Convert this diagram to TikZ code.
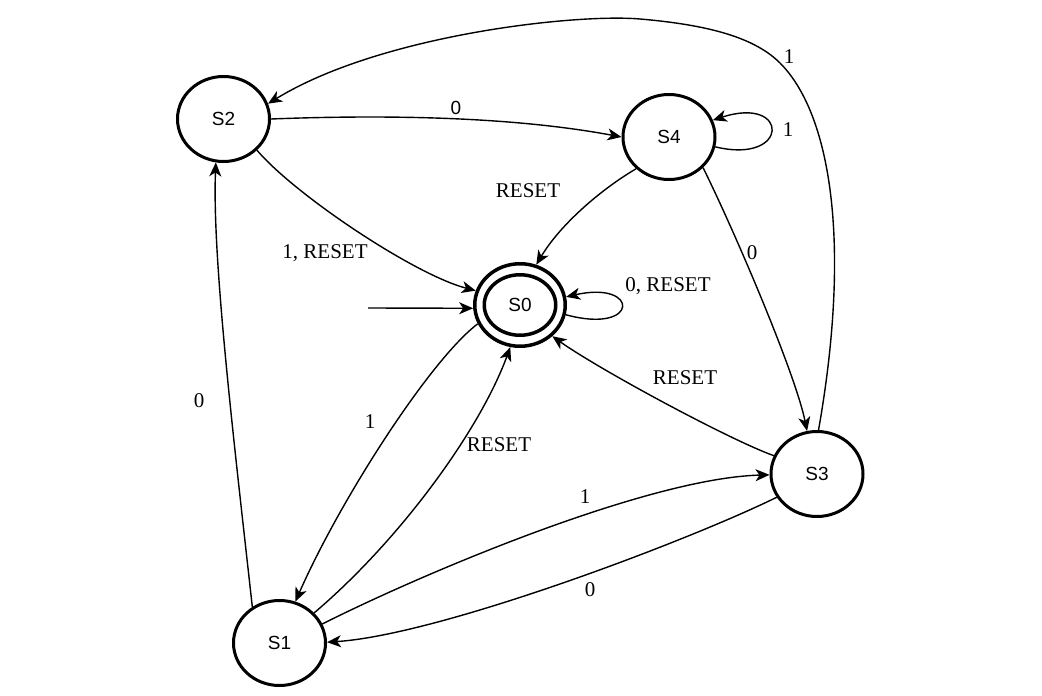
\documentclass[tikz,border=0pt]{standalone}
\usepackage{fontspec}
\setmainfont{Liberation Serif}
\newfontfamily\nodefont{Liberation Sans}
\usetikzlibrary{arrows.meta,shapes.geometric}
\tikzset{
  state/.style={ellipse,draw=black,line width=3pt,inner sep=0pt,
    minimum width=92pt,minimum height=85pt,font=\nodefont\fontsize{19}{19}\selectfont},
  edge/.style={line width=1.4pt,-{Stealth[length=14pt,width=12pt,inset=4pt]}},
  lab/.style={inner sep=0pt,font=\fontsize{21}{21}\selectfont},
  slab/.style={inner sep=0pt,font=\nodefont\fontsize{19}{19}\selectfont}
}
\begin{document}
\begin{tikzpicture}[x=1pt,y=-1pt]
\useasboundingbox[fill=white] (0,0) rectangle (1042,696);
% states
\node[state] (S2) at (223.5,119) {S2};
\node[state] (S4) at (669,137) {S4};
\node[state,line width=3.5pt,minimum width=90.5pt,minimum height=82.5pt] (S0) at (520,305) {};
\node[state,line width=3.5pt,minimum width=71.5pt,minimum height=60.5pt] (S0in) at (520,305) {S0};
\node[state] (S3) at (817,474) {S3};
\node[state] (S1) at (279.5,643) {S1};
\coordinate (init) at (368,308);
% edges
\draw[edge] (S2.east) .. controls (400,114) and (520,118) .. (S4.west);
\draw[edge] (S3.88) .. controls (852,240) and (830,113) .. (780,63)
   .. controls (755,38) and (710,25) .. (640,19)
   .. controls (575,13.4) and (380,35) .. (S2.19);
\draw[edge] (S4.-12) .. controls (790,165) and (790,95) .. (S4.21);
\draw[edge] (S0.-12) .. controls (640,335) and (640,280) .. (S0.10);
\draw[edge] (S4.224) .. controls (600,190) and (560,225) .. (S0.68);
\draw[edge] (S4.-42) .. controls (733,228) and (795,372) .. (S3.103);
\draw[edge] (S2.-43) .. controls (295,195) and (415,275) .. (S0.162);
\draw[edge] (init) -- (S0.184);
\draw[edge] (S0.204) .. controls (430,360) and (340,500) .. (S1.69);
\draw[edge] (S1.41) .. controls (400,540) and (480,430) .. (S0.257);
\draw[edge] (S3.157) .. controls (730,440) and (600,370) .. (S0.-44);
\draw[edge] (S1.24) .. controls (430,570) and (650,478) .. (S3.181);
\draw[edge] (S3.210) .. controls (690,540) and (440,635) .. (S1.1);
\draw[edge] (S1.127) .. controls (235,450) and (212,260) .. (S2.260);
% labels
\node[slab] (l1) at (456,108) {0};
\node[lab] (l2) at (789,57) {1};
\node[lab] (l3) at (788,130) {1};
\node[lab] (l4) at (528,191) {RESET};
\node[lab] (l5) at (752,253) {0};
\node[lab] (l6) at (325,253) {1, RESET};
\node[lab] (l7) at (668,286) {0, RESET};
\node[lab] (l8) at (370,422) {1};
\node[lab] (l9) at (499,445) {RESET};
\node[lab] (l10) at (685,378) {RESET};
\node[lab] (l11) at (585,497) {1};
\node[lab] (l12) at (590,590) {0};
\node[lab] (l13) at (199,401) {0};
\end{tikzpicture}
\end{document}
